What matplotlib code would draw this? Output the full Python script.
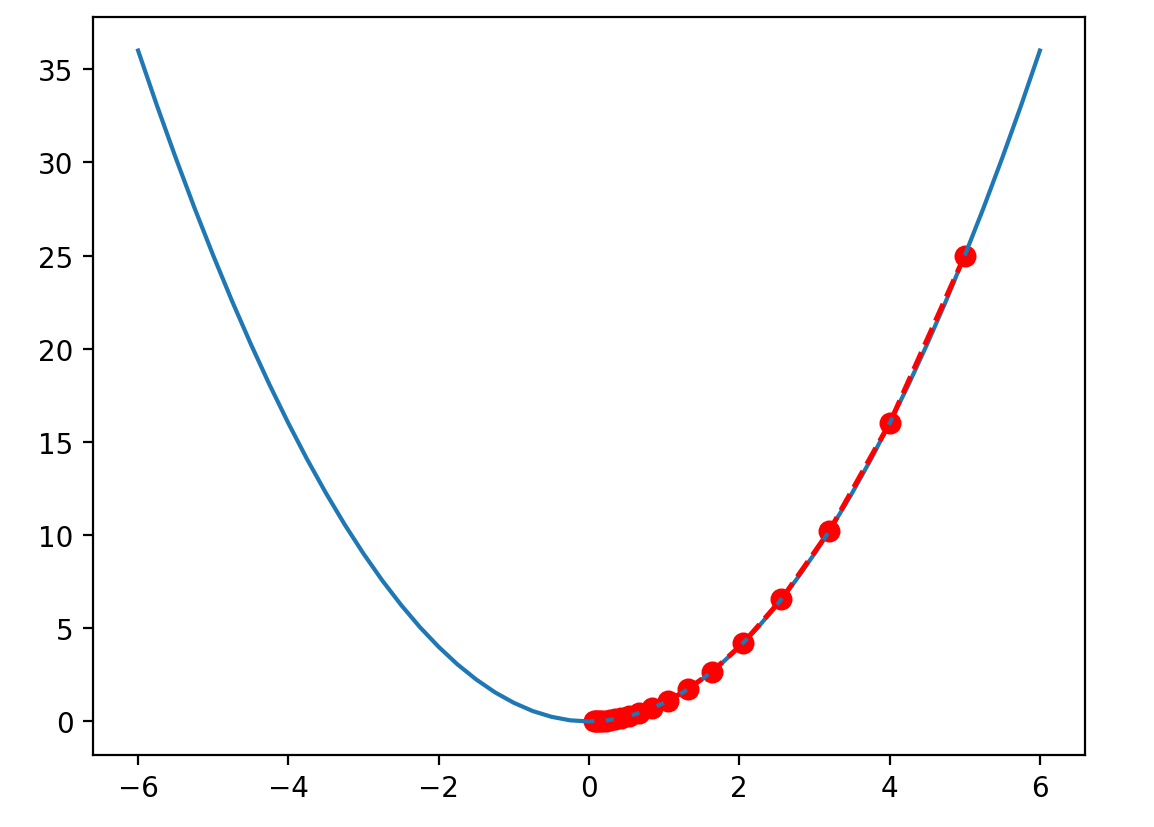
import matplotlib
matplotlib.use("Agg")
import matplotlib.pyplot as plt

# the curve, sampled every 0.25
curve_x = [-6.0, -5.75, -5.5, -5.25, -5.0, -4.75, -4.5, -4.25, -4.0, -3.75, -3.5, -3.25,
           -3.0, -2.75, -2.5, -2.25, -2.0, -1.75, -1.5, -1.25, -1.0, -0.75, -0.5, -0.25,
           0.0, 0.25, 0.5, 0.75, 1.0, 1.25, 1.5, 1.75, 2.0, 2.25, 2.5, 2.75,
           3.0, 3.25, 3.5, 3.75, 4.0, 4.25, 4.5, 4.75, 5.0, 5.25, 5.5, 5.75, 6.0]
curve_y = [36.0, 33.06, 30.25, 27.56, 25.0, 22.56, 20.25, 18.06, 16.0, 14.06, 12.25, 10.56,
           9.0, 7.56, 6.25, 5.06, 4.0, 3.06, 2.25, 1.56, 1.0, 0.56, 0.25, 0.06,
           0.0, 0.06, 0.25, 0.56, 1.0, 1.56, 2.25, 3.06, 4.0, 5.06, 6.25, 7.56,
           9.0, 10.56, 12.25, 14.06, 16.0, 18.06, 20.25, 22.56, 25.0, 27.56, 30.25, 33.06, 36.0]

# descent steps
step_x = [5.0, 4.0, 3.2, 2.56, 2.048, 1.638, 1.311, 1.049, 0.839, 0.671,
          0.537, 0.429, 0.344, 0.275, 0.220, 0.176, 0.141, 0.113, 0.090, 0.072]
step_y = [25.0, 16.0, 10.24, 6.55, 4.19, 2.68, 1.72, 1.10, 0.70, 0.45,
          0.29, 0.18, 0.12, 0.076, 0.048, 0.031, 0.020, 0.013, 0.008, 0.005]

fig = plt.figure(figsize=(5.77, 4.14), dpi=200)
ax = fig.add_axes([93/1154, 1-756/828, (1085-93)/1154, (756-18)/828])

ax.plot(curve_x, curve_y)
ax.scatter(step_x, step_y, color="red", s=48)
ax.plot(step_x, step_y, "r--", lw=1.8)

fig.savefig("out.png", dpi=200)
